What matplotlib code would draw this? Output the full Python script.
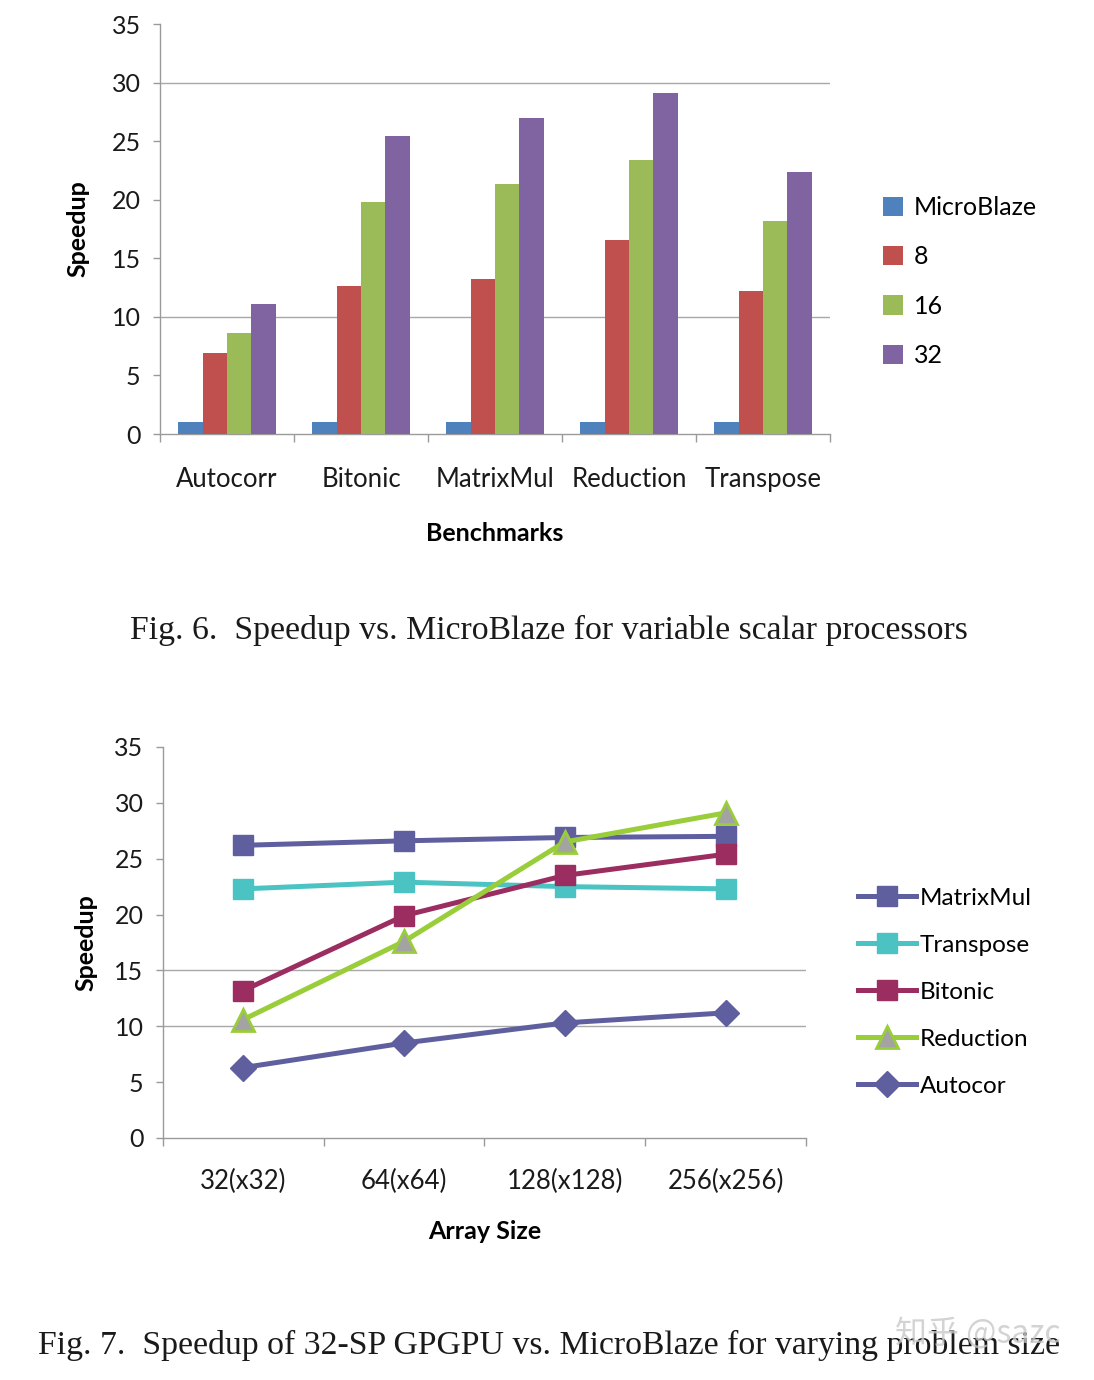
import matplotlib
matplotlib.use("Agg")
import matplotlib.pyplot as plt
import numpy as np

# Fig. 6 data
benchmarks = ["Autocorr", "Bitonic", "MatrixMul", "Reduction", "Transpose"]
bar_series = ["MicroBlaze", "8", "16", "32"]
microblaze = [1.0, 1.0, 1.0, 1.0, 1.0]
sp8 = [6.9, 12.6, 13.2, 16.6, 12.2]
sp16 = [8.6, 19.8, 21.3, 23.4, 18.2]
sp32 = [11.1, 25.4, 27.0, 29.1, 22.4]

# Fig. 7 data
array_sizes = ["32(x32)", "64(x64)", "128(x128)", "256(x256)"]
matrixmul = [26.2, 26.6, 26.9, 27.0]
transpose = [22.3, 22.9, 22.5, 22.3]
bitonic = [13.2, 19.9, 23.5, 25.4]
reduction = [10.6, 17.6, 26.5, 29.1]
autocor = [6.3, 8.5, 10.3, 11.2]

plt.rcParams["font.family"] = ["Lato", "DejaVu Sans"]
AXC = "#9a9a9a"


def style_axes(ax, ncat, grid_keep, xpad):
    ax.set_ylim(0, 35)
    ax.set_yticks(range(0, 36, 5))
    ax.set_xlim(-0.5, ncat - 0.5)
    for s in ["top", "right"]:
        ax.spines[s].set_visible(False)
    for s in ["left", "bottom"]:
        ax.spines[s].set_color(AXC)
        ax.spines[s].set_linewidth(1.0)
    ax.tick_params(axis="y", direction="out", length=5, width=1, color=AXC,
                   labelsize=18, pad=9, labelcolor="#1a1a1a")
    ax.set_xticks(np.arange(ncat))
    ax.set_xticks(np.arange(ncat + 1) - 0.5, minor=True)
    ax.tick_params(axis="x", which="major", length=0, labelsize=18.5,
                   pad=xpad, labelcolor="#1a1a1a")
    ax.tick_params(axis="x", which="minor", direction="out", length=6, width=1,
                   color=AXC)
    ax.yaxis.grid(True, color="#a8a8a8", linewidth=1.0)
    ax.set_axisbelow(True)
    for val, gl in zip(ax.get_yticks(), ax.get_ygridlines()):
        gl.set_visible(val in grid_keep)


fig = plt.figure(figsize=(10.94, 13.8), dpi=100)

# ---- Fig. 6 bar chart
ax1 = fig.add_axes([0.1463, 0.6855, 0.6124, 0.2971])
bar_colors = ["#4f81bd", "#c0504d", "#9bbb59", "#8064a2"]
x = np.arange(len(benchmarks))
w = 1 / 5.5
for i, (vals, name) in enumerate(zip([microblaze, sp8, sp16, sp32], bar_series)):
    ax1.bar(x + (i - 1.5) * w, vals, w, color=bar_colors[i], label=name,
            zorder=3)
style_axes(ax1, len(benchmarks), [10, 30], 24)
ax1.set_xticklabels(benchmarks)
ax1.set_ylabel("Speedup", fontsize=18, fontweight="bold", labelpad=16)
ax1.set_xlabel("Benchmarks", fontsize=18, fontweight="bold", labelpad=21)
fig.legend(handles=ax1.get_legend_handles_labels()[0],
           labels=bar_series, loc="center left",
           bbox_to_anchor=(0.787, 0.796), frameon=False, fontsize=18,
           handlelength=0.8, handleheight=0.8, handletextpad=0.4,
           labelspacing=1.05)

fig.text(0.502, 0.543, "Fig. 6.  Speedup vs. MicroBlaze for variable scalar processors",
         family="Liberation Serif", fontsize=24.3, ha="center", va="center",
         color="#1a1a1a")

# ---- Fig. 7 line chart
ax2 = fig.add_axes([0.149, 0.1754, 0.5877, 0.2833])
xp = np.arange(len(array_sizes))
dark = "#5f5f9f"
ax2.plot(xp, autocor, color=dark, lw=3.6, marker="D", ms=13, mfc=dark,
         mec=dark, label="Autocor", zorder=3)
ax2.plot(xp, matrixmul, color=dark, lw=3.6, marker="s", ms=15, mfc=dark,
         mec=dark, label="MatrixMul", zorder=3)
ax2.plot(xp, transpose, color="#4bc3c3", lw=3.6, marker="s", ms=15,
         mfc="#4bc3c3", mec="#4bc3c3", label="Transpose", zorder=3)
ax2.plot(xp, bitonic, color="#9b2d60", lw=3.6, marker="s", ms=15,
         mfc="#9b2d60", mec="#9b2d60", label="Bitonic", zorder=3)
ax2.plot(xp, reduction, color="#9acd3a", lw=3.6, marker="^", ms=16,
         mfc="#a3a3a3", mec="#9acd3a", mew=2, label="Reduction", zorder=3)
style_axes(ax2, len(array_sizes), [10, 15], 22)
ax2.set_xticklabels(array_sizes)
ax2.set_ylabel("Speedup", fontsize=18, fontweight="bold", labelpad=12)
ax2.set_xlabel("Array Size", fontsize=18, fontweight="bold", labelpad=19)
h, l = ax2.get_legend_handles_labels()
order = ["MatrixMul", "Transpose", "Bitonic", "Reduction", "Autocor"]
hd = dict(zip(l, h))
fig.legend([hd[k] for k in order], order, loc="center left",
           bbox_to_anchor=(0.764, 0.281), frameon=False, fontsize=17.5,
           handlelength=2.4, handletextpad=0.15, labelspacing=1.07)

fig.text(0.502, 0.025, "Fig. 7.  Speedup of 32-SP GPGPU vs. MicroBlaze for varying problem size",
         family="Liberation Serif", fontsize=24.3, ha="center", va="center",
         color="#1a1a1a")
# faint site watermark over the caption, as in the scan
fig.text(0.894, 0.034, "知乎 @sazc", family=["Noto Sans CJK SC", "DejaVu Sans"],
         fontsize=23, color="#c8c8c8", alpha=0.8, ha="center", va="center")

fig.savefig("out.png", dpi=100, facecolor="white")
